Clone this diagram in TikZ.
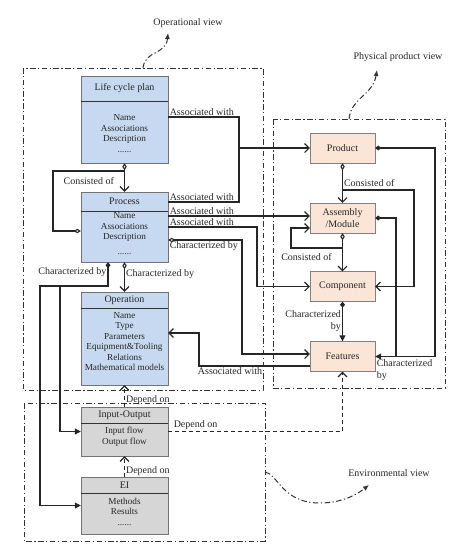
\documentclass[tikz,border=0pt]{standalone}
\usepackage{fontspec}
\setmainfont{Liberation Serif}
\usetikzlibrary{arrows.meta,positioning}
\definecolor{lcblue}{RGB}{198,217,240}
\definecolor{peach}{RGB}{251,229,214}
\definecolor{lgray}{RGB}{214,214,214}
\begin{document}
\begin{tikzpicture}[x=1pt, y=-1pt, font=\fontsize{10}{12}\selectfont, text=black!85,
    view/.style={line width=1pt, black!80, dash pattern=on 5.5pt off 2.5pt on 1.2pt off 2.5pt},
    ln/.style={line width=1.1pt, black!85},
    opn/.style={ln, -{Straight Barb[length=4.5pt,width=9pt]}},
    dep/.style={ln, dash pattern=on 4pt off 3pt, -{Straight Barb[length=4.5pt,width=9pt]}},
    omd/.style={ln, {Diamond[open,length=7pt,width=4.5pt]}-{Straight Barb[length=4.5pt,width=9pt]}},
    fdt/.style={ln, {Diamond[length=6pt,width=5pt]}-{Triangle[length=6pt,width=6pt]}},
    ftr/.style={ln, -{Triangle[length=6pt,width=6pt]}},
    cls/.style={draw=black!55, fill=#1, minimum width=87pt, inner sep=0pt},
    hd/.style={minimum width=87pt, inner sep=0pt, minimum height=#1},
    bd/.style={align=center, font=\fontsize{9.2}{10.5}\selectfont},
    ent/.style={draw=black!50, fill=peach, minimum width=65pt, minimum height=30pt, inner sep=0pt, align=center},
    lb/.style={inner sep=1pt, align=left}]
  \useasboundingbox (0,0) rectangle (474,551);

  \draw[view] (23,68) rectangle (263,390);
  \draw[view] (273,119) rectangle (445,388);
  \draw[view] (24,403) rectangle (265,541);

  \node (opv) at (188,23) {Operational view};
  \node (phv) at (398,57) {Physical product view};
  \node (env) at (389,473) {Environmental view};
  \draw[view, -{Latex[length=6pt,width=5pt]}] (143,68) .. controls (145,50) and (166,55) .. (168,33);
  \draw[view, -{Latex[length=6pt,width=5pt]}] (349,119) .. controls (351,98) and (373,95) .. (377,70);
  \draw[view, -{Latex[length=6pt,width=5pt]}] (265,472) .. controls (278,474) and (282,503) .. (320,503) .. controls (345,503) and (360,492) .. (369,485);

  \node[cls=lcblue, minimum height=87pt] (lcp) at (124.5,119.5) {};
  \node[hd=25pt, below=0pt of lcp.north] (lcph) {Life cycle plan};
  \draw[black!80] (lcph.south west) -- (lcph.south east);
  \node[bd] (lcpb) at (124.5,133.5) {Name\\Associations\\Description\\......};

  \node[cls=lcblue, minimum height=70pt] (proc) at (124.5,227) {};
  \node[hd=19pt, below=0pt of proc.north] (proch) {Process};
  \draw[black!80] (proch.south west) -- (proch.south east);
  \node[bd] (procb) at (124.5,233.5) {Name\\Associations\\Description\\[4pt]......};

  \node[cls=lcblue, minimum height=93pt] (op) at (124.5,338.5) {};
  \node[hd=16pt, below=0pt of op.north] (oph) {Operation};
  \draw[black!80] (oph.south west) -- (oph.south east);
  \node[bd] (opb) at (124.5,341.5) {Name\\Type\\Parameters\\Equipment\&Tooling\\Relations\\Mathematical models};

  \node[cls=lgray, minimum height=49pt] (io) at (124.5,431.5) {};
  \node[hd=16pt, below=0pt of io.north] (ioh) {Input-Output};
  \draw[black!80] (ioh.south west) -- (ioh.south east);
  \node[bd] (iob) at (124.5,436.5) {Input flow\\Output flow};

  \node[cls=lgray, minimum height=57pt] (ei) at (124.5,505.5) {};
  \node[hd=16pt, below=0pt of ei.north] (eih) {EI};
  \draw[black!80] (eih.south west) -- (eih.south east);
  \node[bd] (eib) at (124.5,511.5) {Methods\\Results\\......};

  \node[ent] (prod) at (342.5,148) {Product};
  \node[ent] (asm) at (342.5,218) {Assembly\\/Module};
  \node[ent] (comp) at (342.5,286.5) {Component};
  \node[ent] (feat) at (342.5,356.5) {Features};

  \draw[opn] (lcp.east |- 0,117) node[lb, above right]{Associated with} -| (239,148) -- (prod.west);
  \draw[ln] (proc.east |- 0,202) node[lb, above right]{Associated with} -| (239,148);
  \draw[opn] (proc.east |- 0,216) node[lb, above right]{Associated with} -- (asm.west |- 0,216);
  \draw[opn] (proc.east |- 0,227) node[lb, above right]{Associated with} -- (257,227) |- (comp.west);
  \draw[omd] (proc.east |- 0,240) node[lb, below right]{Characterized by} -- (242,240) |- (feat.west |- 0,354);
  \draw[opn] (feat.west |- 0,366) -- node[lb, below, pos=0.72]{Associated with} (199,366) |- (op.east |- 0,333);

  \draw[fdt] (prod.east) -- (435,148) |- (feat.east) node[lb, below right, yshift=-2pt]{Characterized\\by};
  \draw[ln, {Diamond[length=6pt,width=5pt]}-] (asm.east) -| (396,356.5);
  \draw[omd] (prod.south) -- node[lb, right]{Consisted of} (asm.north);
  \draw[opn] (prod.south |- 0,190) -- (414,190) |- (comp.east);
  \draw[omd] (asm.south) -- (comp.north);
  \draw[opn] (asm.south |- 0,248) -- node[lb, below, pos=0.7, yshift=-4pt]{Consisted of} (291,248) |- (asm.west |- 0,228);
  \draw[fdt] (comp.south) -- node[lb, left, align=right]{Characterized\\by} (feat.north);

  \draw[omd] (lcp.south) -- (proc.north);
  \draw[ln, {Diamond[open,length=7pt,width=4.5pt]}-] (proc.west |- 0,231) -- (53,231) |- node[lb, below, pos=0.75, yshift=-5pt]{Consisted of} (lcp.south |- 0,171);
  \draw[omd] (proc.south) -- node[lb, right, yshift=3pt]{Characterized by} (op.north);
  \draw[fdt] ([xshift=-16.5pt]proc.south) -- node[lb, left, pos=0.4]{Characterized by} (108,286) -- (40,286) |- (ei.west);
  \draw[ftr] (60,286) |- (io.west);

  \draw[dep] (io.north) -- node[lb, right, pos=0.3]{Depend on} (op.south);
  \draw[dep] (ei.north) -- node[lb, right, pos=0.3]{Depend on} (io.south);
  \draw[dep] (io.east) node[lb, above right, xshift=4pt]{Depend on} -| (feat.south);
\end{tikzpicture}
\end{document}
